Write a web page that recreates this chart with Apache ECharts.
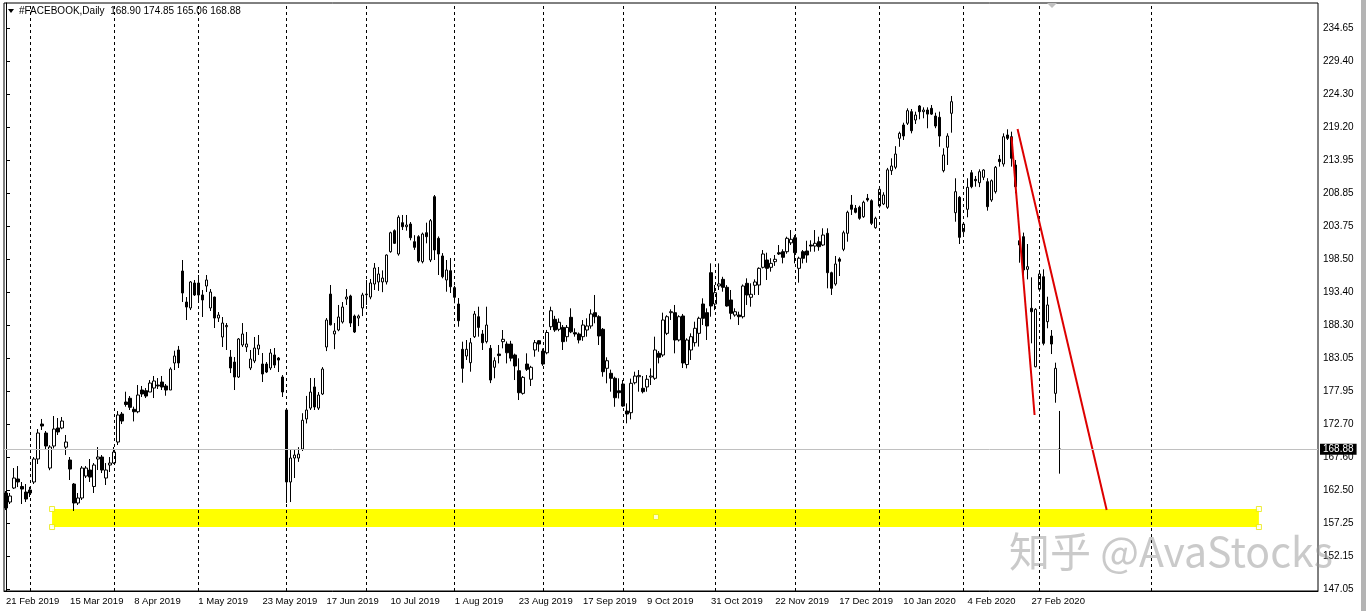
<!DOCTYPE html>
<html><head><meta charset="utf-8">
<script src="https://cdn.jsdelivr.net/npm/echarts@6/dist/echarts.min.js"></script>
<style>html,body{margin:0;padding:0;background:#fff;}#c{width:1366px;height:611px;}</style>
</head><body><div id="c"></div>
<script>
// ---- data: daily candles #FACEBOOK, 21 Feb 2019 .. 9 Mar 2020 ----
const opens = [162.04,160.63,162.82,164.23,163.06,162.19,162.51,163.76,167.35,172.81,171.41,165.94,169.38,172.19,172.19,169.20,167.19,163.44,160.48,161.26,164.69,165.63,163.06,167.35,167.66,164.38,166.41,166.72,170.00,174.37,
176.25,176.83,175.11,174.73,178.12,178.01,177.81,178.43,178.90,179.37,178.75,178.12,182.34,184.37,196.70,191.86,190.93,194.83,194.83,192.96,194.36,190.93,192.64,189.36,186.40,188.00,183.27,182.49,180.15,185.15,
184.84,181.56,182.65,184.53,182.18,182.18,181.56,183.59,183.12,180.15,175.00,163.76,167.50,167.50,168.90,173.60,175.30,178.60,175.30,177.50,184.84,193.10,186.87,187.50,188.74,192.33,192.80,189.67,189.36,190.93,
193.00,192.64,194.67,194.99,195.00,195.00,199.72,203.00,199.36,204.25,203.62,204.04,201.28,202.06,198.16,202.68,198.42,208.31,201.81,199.05,195.30,196.75,194.10,191.55,184.48,183.43,182.39,186.45,189.57,186.87,
185.67,184.63,181.67,183.74,185.67,185.30,185.30,183.59,181.13,177.60,182.18,179.80,184.37,185.82,184.20,183.94,188.00,189.16,187.60,187.90,186.45,189.47,187.07,186.87,186.45,187.49,188.12,190.20,189.57,187.60,
181.51,180.73,179.95,178.00,179.06,174.84,174.58,179.26,180.20,178.39,178.60,180.15,179.95,183.85,183.59,186.97,190.20,190.20,185.93,189.68,182.10,184.37,185.51,186.97,191.55,190.20,196.44,191.55,194.37,195.40,
194.16,192.18,189.83,189.83,189.57,194.78,192.60,194.47,194.52,197.28,198.42,197.28,198.16,199.56,199.72,199.72,201.10,201.90,197.12,199.72,199.83,200.76,200.60,201.28,200.76,202.59,196.44,194.67,198.58,200.09,
202.59,207.01,206.50,206.65,205.18,208.05,207.68,203.47,206.85,207.17,206.65,212.37,212.90,217.42,219.50,219.77,221.58,220.28,222.47,221.58,221.84,222.10,220.90,220.70,212.37,216.02,221.33,205.81,208.21,202.84,
206.34,212.05,211.02,210.49,211.34,210.65,207.79,209.09,214.15,213.41,217.94,217.67,213.25,201.43,202.06,196.97,190.88,181.76,193.85,195.81,188.79,186.55,177.60,168.90];
const highs = [162.35,162.04,165.94,166.25,163.76,163.44,163.00,167.66,172.03,173.60,171.72,169.50,174.06,173.75,173.91,171.10,167.66,163.60,162.04,166.25,166.25,167.35,166.72,169.22,167.97,166.72,167.66,169.22,174.84,174.69,
177.86,177.18,175.52,178.90,178.75,178.43,179.68,180.31,179.99,180.31,179.06,181.67,184.26,185.00,198.42,192.64,195.14,195.30,196.08,193.74,196.08,193.89,192.70,190.30,189.52,188.58,184.37,183.27,186.24,188.58,
187.18,184.37,186.40,186.71,183.90,182.49,184.53,184.68,183.27,180.46,175.31,168.75,168.75,169.20,174.50,177.20,180.00,180.00,177.80,181.70,189.36,194.52,188.58,191.40,191.86,193.89,193.00,189.90,189.90,193.30,
195.30,195.46,197.95,197.33,196.80,199.30,202.84,203.20,205.40,205.45,205.45,204.35,202.30,202.30,202.70,204.25,204.82,208.57,202.10,199.50,198.42,198.73,194.40,192.49,185.67,185.93,186.24,190.46,191.13,187.49,
191.13,185.15,183.23,185.15,187.49,185.70,185.80,183.80,183.07,180.30,183.85,181.90,185.93,185.93,184.60,187.50,191.13,189.70,189.30,188.27,188.27,190.88,187.76,187.10,189.05,189.32,190.72,192.96,189.80,187.80,
183.23,181.30,180.20,179.95,179.68,176.04,179.90,180.98,181.24,180.31,180.46,181.50,186.45,184.20,190.20,189.80,190.72,191.40,189.80,190.00,186.20,186.97,188.79,189.57,192.44,190.88,197.90,194.52,197.90,195.80,
194.50,193.74,190.88,190.35,194.60,195.56,194.78,195.40,197.28,199.98,199.56,198.70,199.20,200.76,200.10,202.06,203.10,202.30,198.94,199.98,201.43,201.50,203.10,202.06,203.37,203.37,196.60,199.05,198.84,203.00,
206.12,208.57,207.01,206.90,207.68,208.73,207.90,205.18,209.80,209.00,212.80,214.30,216.20,218.46,219.86,222.10,222.00,221.58,222.62,222.26,222.26,222.62,221.42,221.58,215.86,218.21,224.03,211.18,208.40,204.35,
211.18,212.47,211.54,212.58,212.60,211.20,211.00,213.10,214.82,218.20,218.83,218.46,214.04,203.10,202.70,200.92,195.72,190.90,196.60,196.97,192.69,187.49,182.39,174.85];
const lows = [159.38,160.32,162.66,162.97,160.32,160.63,161.41,163.44,166.57,171.88,168.75,165.60,169.00,171.10,172.00,167.97,164.07,159.23,160.17,160.95,164.38,163.76,162.04,165.63,165.16,163.29,165.32,166.60,169.53,172.81,
175.52,175.00,173.22,174.50,177.03,176.87,177.81,176.87,178.28,178.12,177.23,178.12,181.24,181.56,191.86,189.05,190.61,192.80,192.18,189.52,193.42,190.46,187.80,188.74,184.84,184.37,180.77,178.12,180.00,184.84,
184.06,181.24,182.33,183.59,179.37,180.77,181.24,181.56,180.93,177.03,160.48,160.63,164.38,166.90,168.60,172.90,175.00,175.00,175.00,177.34,184.20,188.20,184.50,187.30,188.50,191.40,187.96,187.02,188.10,189.67,
191.40,192.30,193.74,193.60,193.40,194.60,199.56,200.92,199.10,203.10,203.00,201.50,200.00,198.00,197.90,201.03,198.10,198.42,196.08,195.56,193.47,193.27,191.66,188.00,179.26,182.81,180.98,186.24,186.45,184.37,
185.40,179.20,179.95,182.28,184.63,182.28,182.60,179.68,176.56,177.40,181.10,178.75,183.32,184.10,181.90,183.70,187.49,187.20,187.30,184.37,185.67,187.00,186.45,185.40,185.80,186.45,187.70,188.54,185.15,180.20,
179.17,177.86,175.50,176.80,175.50,172.92,173.54,179.00,177.86,177.60,177.86,178.90,179.70,182.28,183.30,186.70,189.05,183.85,185.70,181.56,181.50,182.81,184.90,184.90,188.27,185.93,189.57,190.60,193.74,193.47,
191.13,189.16,189.57,188.27,189.30,191.40,191.13,192.96,192.96,197.10,195.30,196.60,197.50,199.20,197.90,199.40,200.76,197.90,194.88,197.90,198.00,199.72,199.72,199.87,200.60,194.00,192.96,194.40,195.92,199.80,
201.28,205.45,205.71,204.70,205.00,207.53,203.88,203.30,206.60,207.00,206.40,211.70,212.60,216.10,217.16,219.50,218.20,219.66,220.39,220.55,218.99,221.06,219.00,216.10,212.10,213.26,218.30,204.40,200.92,202.48,
205.09,209.62,209.87,209.80,210.90,206.12,207.50,208.80,213.00,213.00,217.16,213.00,208.84,198.00,196.08,195.40,185.41,181.66,193.50,185.10,187.76,183.74,176.14,165.06];
const closes = [159.70,161.57,164.38,163.76,162.66,161.10,162.04,167.35,171.41,172.50,169.38,169.22,172.03,171.57,173.28,170.00,165.78,160.48,161.26,165.94,165.94,164.53,166.41,167.66,165.63,165.63,166.72,168.44,174.22,173.28,
175.86,175.42,174.73,177.34,177.50,177.18,179.21,179.53,178.75,178.59,178.12,181.40,183.43,182.34,193.27,191.08,194.99,192.96,192.96,192.18,195.30,193.42,189.36,189.83,188.58,188.20,181.56,180.15,186.09,186.87,
185.31,182.96,184.68,185.15,180.62,180.93,183.90,182.02,182.80,177.81,163.76,167.50,167.97,168.12,173.40,175.00,177.80,175.47,177.34,181.40,189.05,188.30,187.33,189.52,191.08,192.64,188.58,187.18,189.67,192.96,
193.10,194.83,197.17,196.24,195.60,199.20,202.68,201.03,205.09,203.62,203.88,201.90,200.40,198.27,202.48,202.06,204.56,199.98,199.36,195.81,196.86,194.25,192.60,188.94,181.51,184.48,185.50,189.99,187.90,185.51,
188.27,179.68,182.70,183.50,186.04,183.94,183.10,181.87,177.70,180.10,181.35,181.67,185.51,185.30,182.18,187.10,190.50,187.49,188.70,185.67,187.90,187.20,186.87,185.93,188.27,188.12,190.00,189.57,186.56,180.98,
182.70,179.95,176.92,177.70,175.62,174.37,179.17,180.30,180.40,177.86,179.80,180.30,184.37,183.23,189.05,189.57,190.35,185.93,189.57,182.34,185.93,186.45,187.76,189.32,189.32,188.12,191.24,193.32,194.68,194.16,
191.24,190.10,190.35,189.57,194.36,192.96,193.07,194.99,197.12,199.36,197.12,197.90,198.53,199.36,198.84,201.81,201.65,199.56,198.70,198.69,199.20,200.60,201.03,200.50,202.32,196.44,194.00,197.80,198.22,202.68,
205.87,206.34,205.87,204.93,207.43,207.79,204.15,204.93,209.46,208.57,212.50,213.10,214.97,218.20,217.78,221.74,218.61,221.06,221.58,221.84,221.20,221.20,219.34,217.78,214.82,217.78,223.14,209.09,201.96,204.04,
209.77,209.87,210.80,212.21,212.47,206.75,210.80,212.90,213.78,217.67,217.42,214.30,209.87,200.76,196.86,197.38,190.35,190.72,196.24,185.41,191.40,185.30,181.51,168.88];

const totalSlots = 328;                       // bars incl. empty space to the right
const xTickIdx  = [0,16,32,48,64,80,96,112,128,144,160,176,192,208,224,240,256];
const xTickText = ['21 Feb 2019','15 Mar 2019','8 Apr 2019','1 May 2019','23 May 2019','17 Jun 2019','10 Jul 2019','1 Aug 2019','23 Aug 2019','17 Sep 2019','9 Oct 2019','31 Oct 2019','22 Nov 2019','17 Dec 2019','10 Jan 2020','4 Feb 2020','27 Feb 2020'];
const monthGridIdx = [6,27,48,70,90,112,134,154,177,197,218,239,258,286];
const yTickValues = [147.05,152.15,157.25,162.50,167.60,172.70,177.95,183.05,188.30,193.40,198.50,203.75,208.85,213.95,219.20,224.30,229.40,234.65];
const yMin = 146.74, yMax = 238.55;
const lastPrice = 168.88;
const supportZone = [[11.5,159.54],[312.75,156.73]];
const zoneMid = [162.25,158.29];
const trendLine1 = [[251,217.63],[256.75,174.22]];
const trendLine2 = [[252.5,218.88],[274.75,159.38]];

const categories = Array.from({length: totalSlots}, (_, i) => String(i));
const candles = opens.map((o, i) => [o, closes[i], lows[i], highs[i]]);
const tickMap = {}; xTickIdx.forEach((v, k) => tickMap[v] = xTickText[k]);
const last = opens.length - 1;
const header = '#FACEBOOK,Daily  ' + [opens[last], highs[last], lows[last], closes[last]].map(v => v.toFixed(2)).join(' ');

const chart = echarts.init(document.getElementById('c'), null, {renderer: 'canvas'});
chart.setOption({
  animation: false,
  backgroundColor: '#ffffff',
  textStyle: {fontFamily: 'Liberation Sans, Arial, sans-serif'},
  grid: {left: 4, right: 48, top: 3, bottom: 20, show: true, borderColor: '#000', borderWidth: 1, backgroundColor: '#fff'},
  xAxis: [{
    type: 'category', data: categories, boundaryGap: true,
    axisLine: {show: true, lineStyle: {color: '#000', width: 1}},
    axisTick: {show: false},
    splitLine: {show: false},
    axisLabel: {
      interval: (i) => tickMap[i] !== undefined,
      formatter: (v, i) => tickMap[i] || '',
      align: 'left', margin: 5, fontSize: 9.5, color: '#000', fontFamily: 'Liberation Sans'
    }
  }, {
    type: 'value', min: -0.5, max: totalSlots - 0.5, show: false
  }],
  yAxis: {
    type: 'value', position: 'right', min: yMin, max: yMax, scale: true,
    axisLine: {show: true, lineStyle: {color: '#000', width: 1}},
    axisTick: {show: true, length: 4, lineStyle: {color: '#000'}, customValues: yTickValues},
    splitLine: {show: false},
    axisLabel: {customValues: yTickValues, formatter: (v) => Number(v).toFixed(2), fontSize: 10, color: '#000', margin: 5, fontFamily: 'Liberation Sans'}
  },
  graphic: [
    {type: 'rect', shape: {x: 1361, y: 0, width: 5, height: 611}, style: {fill: '#b4b4b4'}, silent: true},
    {type: 'polygon', shape: {points: [[8,9],[14,9],[11,13]]}, style: {fill: '#000'}},
    {type: 'polygon', shape: {points: [[1047,3],[1057,3],[1052,8]]}, style: {fill: '#c0c0c0'}},
    {type: 'text', left: 19, top: 6, style: {text: header, font: '10px "Liberation Sans"', fill: '#000'}},
    {type: 'text', left: 1009, top: 531, z: 100, style: {text: '知乎 @AvaStocks', font: '41px "Noto Sans CJK SC"', fill: 'rgba(150,150,150,0.5)'}}
  ],
  series: [
    {
      type: 'line', xAxisIndex: 1, data: [], z: 1, silent: true,
      markLine: {
        silent: true, symbol: ['none','none'], label: {show: false},
        lineStyle: {color: '#000', type: [3,3], width: 1},
        data: monthGridIdx.map(v => ({xAxis: v}))
      }
    },
    {
      type: 'line', xAxisIndex: 1, data: [], z: 2, silent: true,
      markArea: {
        silent: true, itemStyle: {color: '#ffff00', opacity: 1},
        data: [[{coord: supportZone[0]}, {coord: supportZone[1]}]]
      }
    },
    {
      type: 'candlestick', xAxisIndex: 0, data: candles, barWidth: 3, z: 3,
      itemStyle: {color: '#ffffff', color0: '#000000', borderColor: '#000000', borderColor0: '#000000', borderColorDoji: '#000000', borderWidth: 1},
      markLine: {
        silent: true, symbol: ['none','none'], z: 10,
        lineStyle: {color: '#c0c0c0', type: 'solid', width: 1},
        label: {show: true, position: 'end', formatter: lastPrice.toFixed(2), backgroundColor: '#000', color: '#fff', fontSize: 10, padding: [1,3,0,3], distance: 2, fontFamily: 'Liberation Sans'},
        data: [{yAxis: lastPrice}]
      }
    },
    {
      type: 'scatter', xAxisIndex: 1, z: 4, silent: true, symbol: 'rect', symbolSize: 5,
      itemStyle: {color: '#ffffff', borderColor: '#e8e800', borderWidth: 1},
      data: [[supportZone[0][0], supportZone[0][1]], [supportZone[0][0], supportZone[1][1]], [supportZone[1][0], supportZone[0][1]], [supportZone[1][0], supportZone[1][1]], zoneMid]
    },
    {type: 'line', xAxisIndex: 1, data: trendLine1, symbol: 'none', z: 5, silent: true, lineStyle: {color: '#dd0000', width: 2}},
    {type: 'line', xAxisIndex: 1, data: trendLine2, symbol: 'none', z: 5, silent: true, lineStyle: {color: '#dd0000', width: 2}}
  ]
});
</script></body></html>
